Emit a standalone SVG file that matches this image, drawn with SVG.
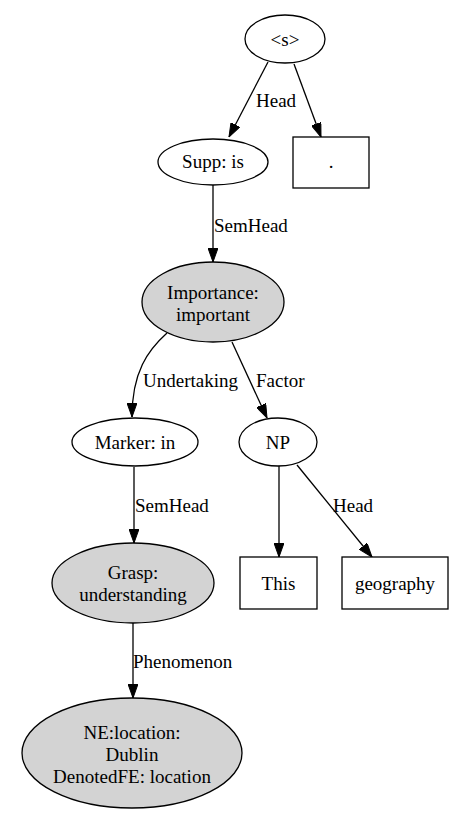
<svg xmlns="http://www.w3.org/2000/svg" width="474" height="824" viewBox="0 0 474 824">
<style>
text{font-family:"Liberation Serif","Times New Roman",serif;font-size:19px;fill:#000}
.n{text-anchor:middle}
.sh{stroke:#000;stroke-width:1.3;fill:#fff}
.g{fill:#d3d3d3}
.e{stroke:#000;stroke-width:1.3;fill:none;marker-end:url(#a)}
</style>
<defs>
<marker id="a" markerUnits="userSpaceOnUse" markerWidth="14" markerHeight="10" refX="14" refY="5" orient="auto">
<path d="M0,0 L14,5 L0,10 z" fill="#000" stroke="#000" stroke-width="1"/>
</marker>
</defs>
<rect width="474" height="824" fill="#fff"/>
<g id="edges">
<path class="e" d="M268,62 L229,137"/>
<text x="256" y="107">Head</text>
<path class="e" d="M294,64 L321,137"/>
<path class="e" d="M213,185 L213,262"/>
<text x="214" y="232">SemHead</text>
<path class="e" d="M167,333 C148,350 132,372 132,417"/>
<text x="143" y="387">Undertaking</text>
<path class="e" d="M232,342 L267,418"/>
<text x="256" y="387">Factor</text>
<path class="e" d="M134,467 L134,543"/>
<text x="135" y="512">SemHead</text>
<path class="e" d="M279,466 L279,557"/>
<path class="e" d="M297,465 L372,557"/>
<text x="333" y="512">Head</text>
<path class="e" d="M133,623 L133,698"/>
<text x="133" y="668">Phenomenon</text>
</g>
<g id="s"><ellipse class="sh" cx="285" cy="39" rx="40" ry="24"/><text class="n" x="285" y="46">&lt;s&gt;</text></g>
<g id="supp"><ellipse class="sh" cx="213" cy="162" rx="55" ry="23"/><text class="n" x="213" y="168">Supp: is</text></g>
<g id="dot"><rect class="sh" x="293" y="137" width="76" height="51"/><text class="n" x="331" y="168">.</text></g>
<g id="importance"><ellipse class="sh g" cx="213" cy="302" rx="71" ry="40"/><text class="n" x="213" y="299">Importance:</text><text class="n" x="213" y="321">important</text></g>
<g id="marker"><ellipse class="sh" cx="135" cy="442" rx="63" ry="24"/><text class="n" x="135" y="449">Marker: in</text></g>
<g id="np"><ellipse class="sh" cx="278" cy="442" rx="39" ry="24"/><text class="n" x="278" y="449">NP</text></g>
<g id="grasp"><ellipse class="sh g" cx="133" cy="583" rx="81" ry="40"/><text class="n" x="133" y="579">Grasp:</text><text class="n" x="133" y="601">understanding</text></g>
<g id="this"><rect class="sh" x="240" y="557" width="77" height="52"/><text class="n" x="278.5" y="590">This</text></g>
<g id="geography"><rect class="sh" x="342" y="557" width="106" height="52"/><text class="n" x="395" y="590">geography</text></g>
<g id="ne"><ellipse class="sh g" cx="132" cy="753" rx="110" ry="55"/><text class="n" x="132" y="739">NE:location:</text><text class="n" x="132" y="761">Dublin</text><text class="n" x="132" y="783">DenotedFE: location</text></g>
</svg>
